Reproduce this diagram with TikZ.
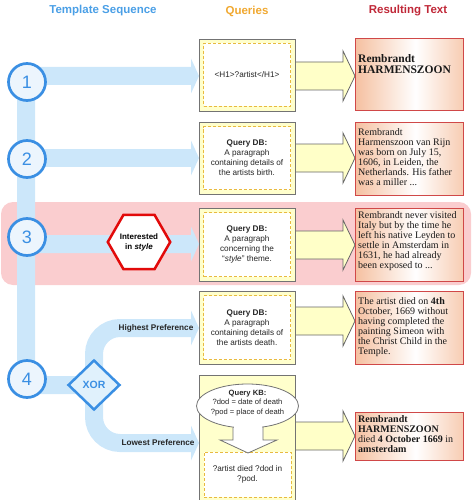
\documentclass[tikz,border=0pt]{standalone}
\usepackage{fontspec}
\setmainfont{Liberation Serif}
\setsansfont{Liberation Sans}
\usetikzlibrary{shapes.geometric}
\definecolor{bandc}{RGB}{204,231,250}
\definecolor{pinkc}{RGB}{250,205,207}
\definecolor{circc}{RGB}{58,143,227}
\definecolor{circfill}{RGB}{236,245,253}
\definecolor{qfill}{RGB}{255,255,204}
\definecolor{qdash}{RGB}{232,186,64}
\definecolor{arrfill}{RGB}{255,255,200}
\definecolor{rborder}{RGB}{208,72,72}
\definecolor{peach}{RGB}{245,192,160}
\definecolor{hexred}{RGB}{226,10,10}
\definecolor{hblue}{RGB}{74,159,230}
\definecolor{horange}{RGB}{240,168,48}
\definecolor{hred}{RGB}{192,40,56}
\pgfdeclarehorizontalshading{rshade}{100bp}{color(0bp)=(peach); color(25bp)=(peach); color(53bp)=(white); color(75bp)=(peach!80!white); color(100bp)=(peach!80!white)}
\newcommand{\blockarr}[1]{\draw[blockarrow] (295,#1-14) -- (343,#1-14) -- (343,#1-25) -- (355,#1) -- (343,#1+25) -- (343,#1+14) -- (295,#1+14);}
\newcommand{\bandhead}[1]{\fill[bandc] (191,#1-17.5) -- (199,#1) -- (191,#1+17.5) -- cycle;}
\tikzset{
 band/.style={draw=bandc, line width=18pt, rounded corners=14pt},
 stepcirc/.style={circle, draw=circc, line width=2.7pt, fill=circfill, minimum size=37pt, inner sep=0pt, text=circc, font=\sffamily\fontsize{18}{18}\selectfont},
 qouter/.style={rectangle, draw=black!55, line width=0.8pt, fill=qfill, inner sep=0pt},
 qinner/.style={rectangle, draw=qdash, line width=1pt, dash pattern=on 3pt off 2pt, fill=white, inner sep=0pt},
 qtext/.style={align=center, font=\sffamily\fontsize{8.2}{10}\selectfont, text=black!85},
 rbox/.style={rectangle, draw=rborder, line width=1pt, shading=rshade, inner sep=0pt},
 rtext/.style={anchor=north west, align=left, inner sep=0pt, font=\rmfamily\fontsize{10}{10}\selectfont, text=black!90},
 blockarrow/.style={fill=arrfill, draw=black!60, line width=0.8pt},
 header/.style={font=\sffamily\bfseries\fontsize{11.5}{13}\selectfont},
 preflabel/.style={font=\sffamily\bfseries\fontsize{8.2}{10}\selectfont, text=black!85},
}
\begin{document}
\begin{tikzpicture}[x=1pt,y=-1pt]
\useasboundingbox (0,0) rectangle (474,500);
\clip (0,0) rectangle (474,500);
% headers
\node[header, text=hblue] (h1) at (103,11) {Template Sequence};
\node[header, text=horange] (h2) at (247,11) {Queries};
\node[header, text=hred] (h3) at (408,11) {Resulting Text};
% pink band
\fill[pinkc, rounded corners=12pt] (1,202) rectangle (471,285);
% blue bands
\draw[band] (191,76) -- (26,76) -- (26,244) -- (191,244);
\draw[band] (26,230) -- (26,385) -- (94,385);
\draw[band, rounded corners=0pt] (26,158) -- (191,158);
\draw[band, rounded corners=26pt] (94,385) -- (94,328) -- (191,328);
\draw[band, rounded corners=26pt] (94,385) -- (94,443) -- (191,443);
\bandhead{76}
\bandhead{158}
\bandhead{244}
\bandhead{328}
\bandhead{443}
% block arrows
\blockarr{76}
\blockarr{158}
\blockarr{245}
\blockarr{321}
\blockarr{436}
% query boxes
\node[qouter, minimum width=96pt, minimum height=72pt] (q1) at (247,75) {};
\node[qinner, minimum width=87pt, minimum height=63pt, qtext] (q1i) at (q1) {<H1>?artist</H1>};
\node[qouter, minimum width=96pt, minimum height=72pt] (q2) at (247,158) {};
\node[qinner, minimum width=87pt, minimum height=63pt, qtext] (q2i) at (q2) {\textbf{Query DB:}\\A paragraph\\containing details of\\the artists birth.};
\node[qouter, minimum width=96pt, minimum height=73pt] (q3) at (247,244.5) {};
\node[qinner, minimum width=87pt, minimum height=64pt, qtext] (q3i) at (q3) {\textbf{Query DB:}\\A paragraph\\concerning the\\“\textit{style}” theme.};
\node[qouter, minimum width=96pt, minimum height=73pt] (q4) at (247,327.5) {};
\node[qinner, minimum width=87pt, minimum height=64pt, qtext] (q4i) at (q4) {\textbf{Query DB:}\\A paragraph\\containing details of\\the artists death.};
\node[qouter, minimum width=96pt, minimum height=140pt] (q5) at (247,445) {};
\node[qinner, minimum width=87pt, minimum height=45pt, qtext] (q5i) at (247.5,474.5) {?artist died ?dod in\\?pod.};
% callout
\draw[fill=white, draw=black!55, line width=0.8pt] (233,420) -- (233,440) -- (220,440) -- (248,453) -- (277,440) -- (263,440) -- (263,420);
\node[ellipse, draw=black!55, line width=0.8pt, fill=white, minimum width=102pt, minimum height=44pt, inner sep=0pt] (kb) at (247.5,406) {};
\node[qtext, font=\sffamily\fontsize{7.6}{9.6}\selectfont, inner sep=0pt] (kbt) at (247.5,403) {\textbf{Query KB:}\\?dod = date of death\\?pod = place of death};
\fill[white] (233.6,419) rectangle (262.4,430);
% result boxes
\node[rbox, minimum width=108pt, minimum height=72pt] (r1) at (409,75) {};
\node[rtext, font=\rmfamily\bfseries\fontsize{11.5}{11.5}\selectfont] (r1t) at (358,54) {Rembrandt\\HARMENSZOON};
\node[rbox, minimum width=108pt, minimum height=73pt] (r2) at (409,158.5) {};
\node[rtext] (r2t) at (358,128) {Rembrandt\\Harmenszoon van Rijn\\was born on July 15,\\1606, in Leiden, the\\Netherlands. His father\\was a miller ...};
\node[rbox, minimum width=108pt, minimum height=73pt] (r3) at (409,244.5) {};
\node[rtext] (r3t) at (358,211) {Rembrandt never visited\\Italy but by the time he\\left his native Leyden to\\settle in Amsterdam in\\1631, he had already\\been exposed to ...};
\node[rbox, minimum width=108pt, minimum height=73pt] (r4) at (409,327.5) {};
\node[rtext] (r4t) at (358,297) {The artist died on \textbf{4th}\\October, 1669 without\\having completed the\\painting Simeon with\\the Christ Child in the\\Temple.};
\node[rbox, minimum width=108pt, minimum height=48pt] (r5) at (409,436) {};
\node[rtext] (r5t) at (358,415) {\textbf{Rembrandt}\\\textbf{HARMENSZOON}\\died \textbf{4 October 1669} in\\\textbf{amsterdam}};
% step circles
\node[stepcirc] (c1) at (27,82) {1};
\node[stepcirc] (c2) at (27,159) {2};
\node[stepcirc] (c3) at (27,237) {3};
\node[stepcirc] (c4) at (27,379) {4};
% hexagon condition
\node[regular polygon, regular polygon sides=6, draw=hexred, line width=2.5pt, fill=white, minimum size=57pt, inner sep=0pt, align=center, font=\sffamily\bfseries\fontsize{8}{10}\selectfont] (hex) at (139,242) {Interested\\in \textit{style}};
% XOR
\node[diamond, draw=circc, line width=2.5pt, fill=bandc!60!white, minimum width=52pt, minimum height=50pt, inner sep=0pt, text=circc, font=\sffamily\bfseries\fontsize{10.5}{12}\selectfont] (xor) at (94,385) {XOR};
% preference labels
\node[preflabel] (hp) at (156,328) {Highest Preference};
\node[preflabel] (lp) at (158,443) {Lowest Preference};
\end{tikzpicture}
\end{document}
